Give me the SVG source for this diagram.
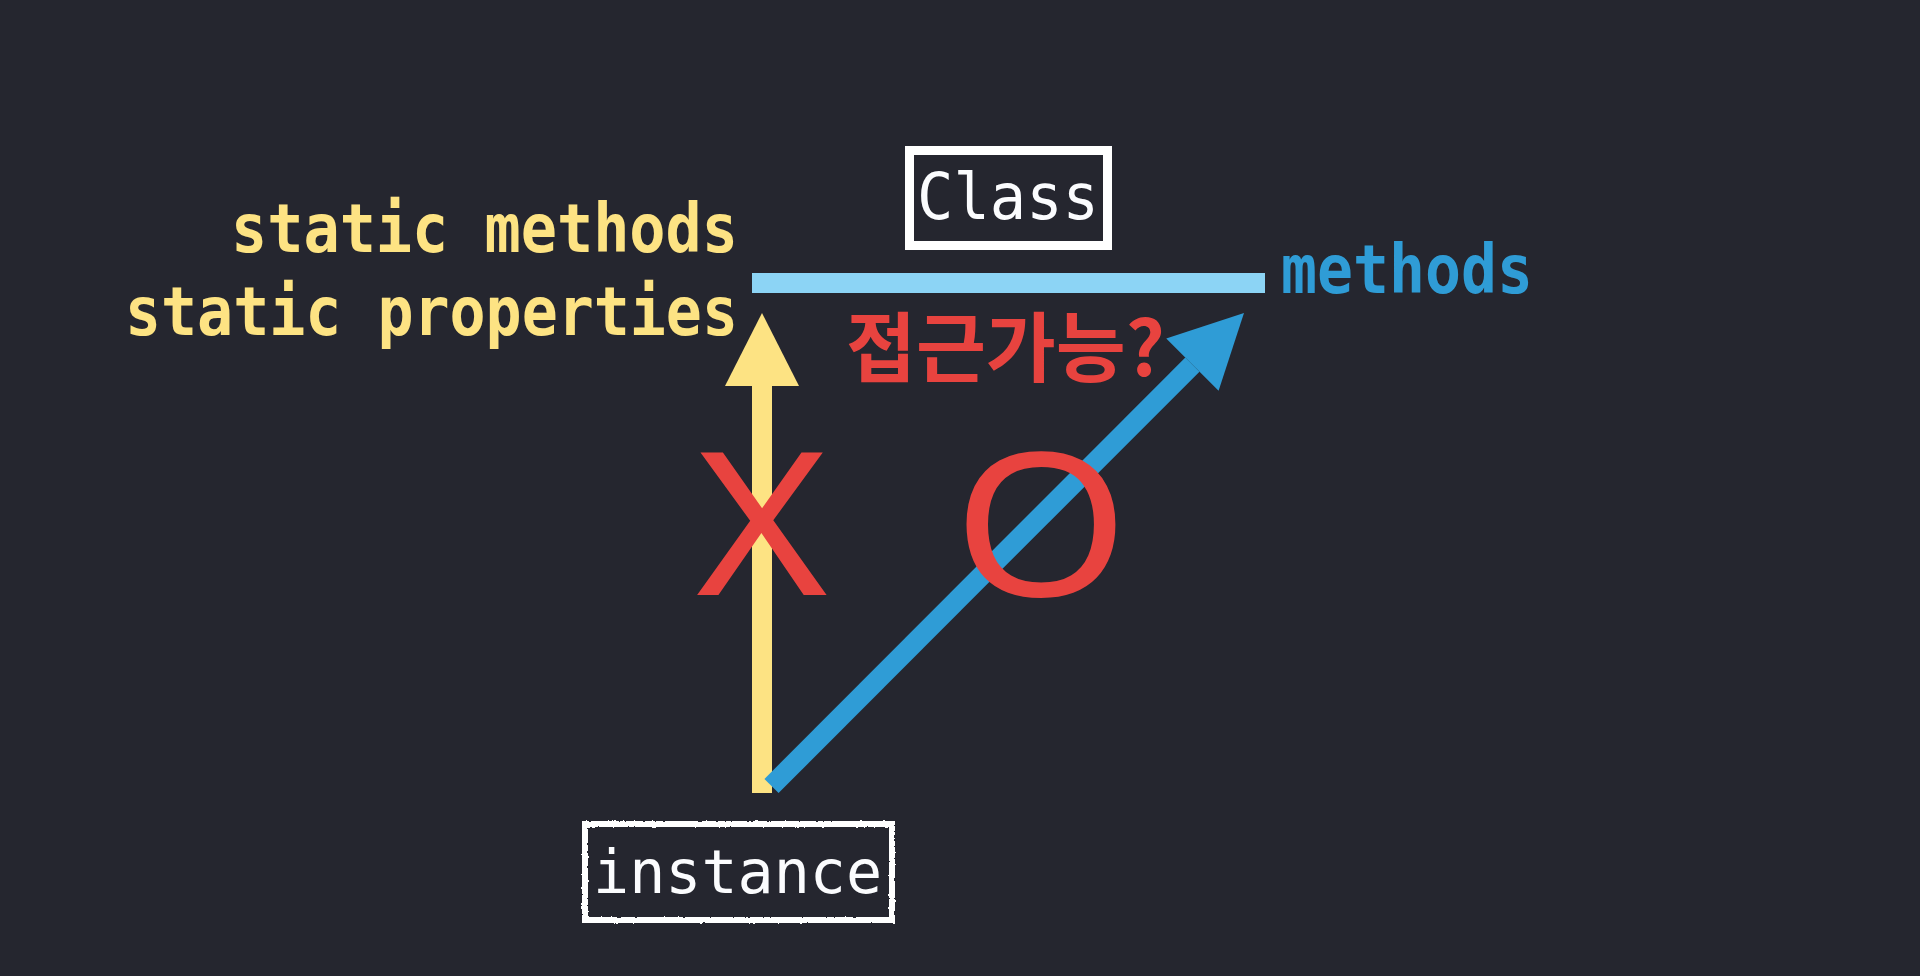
<svg xmlns="http://www.w3.org/2000/svg" width="1920" height="976" viewBox="0 0 1920 976">
  <style>
    .mono { font-family: "DejaVu Sans Mono", "Liberation Mono", monospace; }
    .lbl-static { fill: #fde383; font-weight: bold; font-size: 68px; }
    .lbl-methods { fill: #2f9cd6; font-weight: bold; font-size: 68px; }
    .node-text { fill: #fbfcfe; font-size: 64px; }
    .mark { fill: #e8433f; font-family: "Noto Sans", "Open Sans", sans-serif; font-size: 200px; }
    .question { fill: #e8433f; font-family: "Noto Sans CJK KR", "Noto Sans", sans-serif; font-weight: bold; font-size: 76px; }
  </style>
  <defs>
    <marker id="headYellow" markerUnits="userSpaceOnUse" viewBox="0 -40 80 80" markerWidth="80" markerHeight="80" refX="0" refY="0" orient="auto" overflow="visible">
      <path d="M0,-37 L73,0 L0,37 Z" fill="#fde383"/>
    </marker>
    <marker id="headBlue" markerUnits="userSpaceOnUse" viewBox="0 -40 80 80" markerWidth="80" markerHeight="80" refX="0" refY="0" orient="auto" overflow="visible">
      <path d="M0,-37 L73,0 L0,37 Z" fill="#2f9cd6"/>
    </marker>
    <filter id="rough" x="-5%" y="-10%" width="110%" height="120%">
      <feTurbulence type="fractalNoise" baseFrequency="0.3" numOctaves="2" seed="3" result="n"/>
      <feDisplacementMap in="SourceGraphic" in2="n" scale="2.5" xChannelSelector="R" yChannelSelector="G"/>
    </filter>
  </defs>

  <rect x="0" y="0" width="1920" height="976" fill="#25262f"/>

  <g id="static-labels" class="mono lbl-static">
    <text x="231" y="252" textLength="507" lengthAdjust="spacingAndGlyphs">static methods</text>
    <text x="125" y="335" textLength="613" lengthAdjust="spacingAndGlyphs">static properties</text>
  </g>

  <g id="class-node">
    <rect x="909.5" y="150.5" width="198" height="95" fill="none" stroke="#ffffff" stroke-width="9"/>
    <text class="mono node-text" x="917" y="219" textLength="182" lengthAdjust="spacingAndGlyphs">Class</text>
  </g>

  <g id="class-bar">
    <rect x="752" y="273" width="513" height="20" fill="#8cd4f5"/>
  </g>

  <g id="methods-label">
    <text class="mono lbl-methods" x="1281" y="293" textLength="252" lengthAdjust="spacingAndGlyphs">methods</text>
  </g>

  <g id="instance-node">
    <rect x="585" y="824" width="307" height="96" fill="none" stroke="#ffffff" stroke-width="6" filter="url(#rough)"/>
    <text class="mono node-text" x="593" y="893" textLength="289" lengthAdjust="spacingAndGlyphs" style="font-size:60px">instance</text>
  </g>

  <g id="connectors">
    <line x1="762" y1="793" x2="762" y2="386" stroke="#fde383" stroke-width="20" marker-end="url(#headYellow)"/>
    <line x1="771.5" y1="786" x2="1192.4" y2="364.6" stroke="#2f9cd6" stroke-width="20" marker-end="url(#headBlue)"/>
  </g>

  <g id="annotations">
    <text class="question" x="846" y="376">접근가능?</text>
    <text class="mark" transform="translate(762,595) scale(1.12,1)" x="0" y="0" text-anchor="middle">X</text>
    <text class="mark" transform="translate(1041,596) scale(1.13,1)" x="0" y="0" text-anchor="middle">O</text>
  </g>
</svg>
